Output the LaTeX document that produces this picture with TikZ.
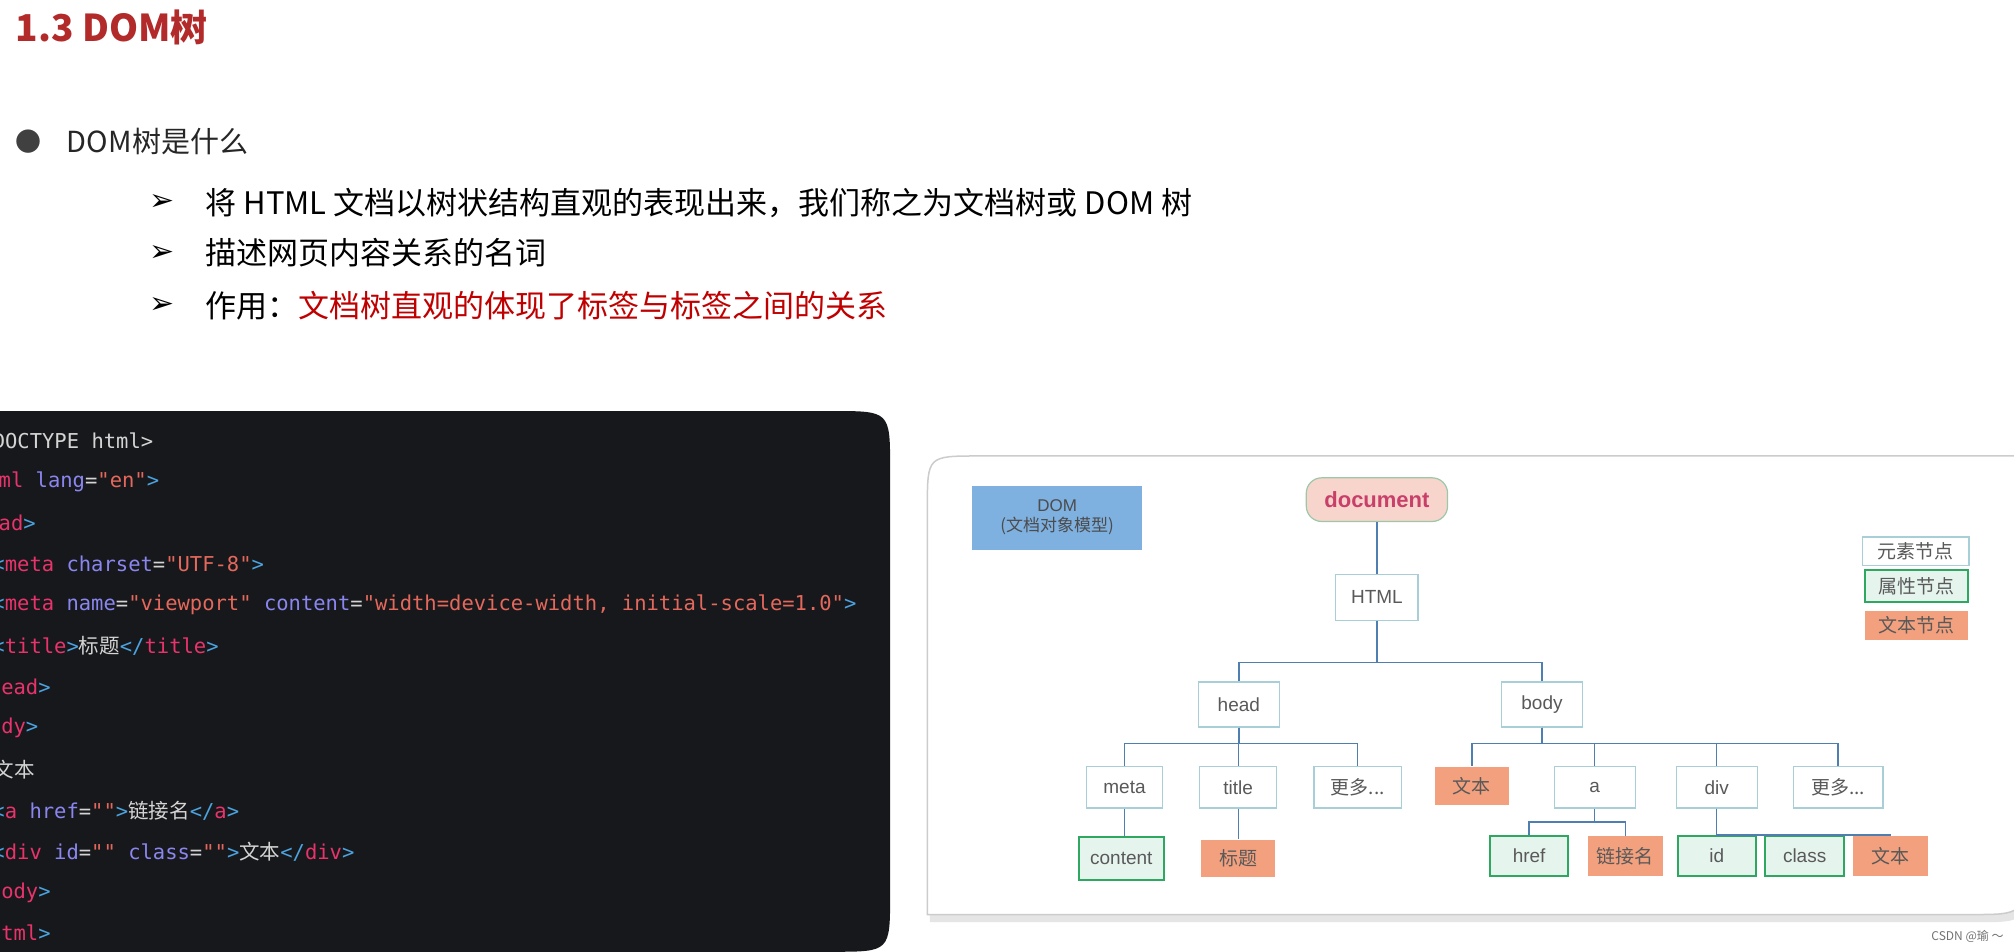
\documentclass[tikz,border=0pt]{standalone}
\usepackage{fontspec}
\setmainfont{Liberation Sans}
\newfontfamily\cjk{Noto Sans CJK SC}
\newfontfamily\codefont{DejaVu Sans Mono}
\def\u{1.2844pt}
\definecolor{titred}{HTML}{B22A2A}
\definecolor{redtxt}{HTML}{C00000}
\definecolor{codebg}{HTML}{17181B}
\definecolor{ctag}{HTML}{E8336B}
\definecolor{cat}{HTML}{8A86F0}
\definecolor{cst}{HTML}{E4685C}
\definecolor{cbr}{HTML}{4BA3E0}
\definecolor{ctx}{HTML}{D4D4D4}
\definecolor{ebord}{HTML}{A8CFD8}
\definecolor{lnc}{HTML}{4F7FB0}
\definecolor{orng}{HTML}{F2A07E}
\definecolor{grnb}{HTML}{2EA860}
\definecolor{grnf}{HTML}{E6F4EE}
\definecolor{domb}{HTML}{7EB0E0}
\definecolor{docf}{HTML}{F8D5CC}
\definecolor{docb}{HTML}{9CC8A8}
\definecolor{doct}{HTML}{C8406A}
\newcommand\tg[1]{\textcolor{ctag}{#1}}
\newcommand\at[1]{\textcolor{cat}{#1}}
\newcommand\st[1]{\textcolor{cst}{#1}}
\newcommand\br[1]{\textcolor{cbr}{#1}}
\newcommand\tx[1]{\textcolor{ctx}{#1}}
\newcommand\bx[7]{\node[#2, minimum width={(#5-#3)*\u}, minimum height={(#6-#4)*\u}] (#1) at ({(#3+#5)/2},{(#4+#6)/2}) {#7};}
\begin{document}
\begin{tikzpicture}[x=1.2844pt,y=-1.2844pt,
  ebox/.style={draw=ebord, line width=1.2pt, fill=white, inner sep=0pt, text=black!65, font=\fontsize{19}{22}\selectfont},
  abox/.style={ebox, draw=grnb, line width=2pt, fill=grnf},
  tbox/.style={ebox, draw=none, fill=orng},
  ln/.style={draw=lnc, line width=1.3pt},
  cl/.style={anchor=west, inner sep=0pt, font=\codefont\fontsize{20.5}{24}\selectfont}]
\useasboundingbox (0,0) rectangle (1568,741);
\clip (0,0) rectangle (1568,741);
\fill[white] (0,0) rectangle (1568,741);
% header text
\node[anchor=west, inner sep=0pt, text=titred, font=\cjk\bfseries\fontsize{37}{40}\selectfont] (title) at (12,21) {1.3 DOM树};
\node[anchor=west, inner sep=0pt, font=\cjk\fontsize{26}{30}\selectfont, text=black!75] (b0) at (12,110) {●};
\node[anchor=west, inner sep=0pt, font=\cjk\fontsize{29}{32}\selectfont, text=black!85] (t0) at (52,110) {DOM树是什么};
\foreach \yy/\nm in {158/a1,197/a2,238/a3}{
  \node[anchor=west, inner sep=0pt, font=\fontspec{DejaVu Sans}\bfseries\fontsize{30}{34}\selectfont] (m\nm) at (116,\yy) {➢};}
\node[anchor=west, inner sep=0pt, font=\cjk\fontsize{31}{34}\selectfont] (a1) at (160,158) {将 HTML 文档以树状结构直观的表现出来，我们称之为文档树或 DOM 树};
\node[anchor=west, inner sep=0pt, font=\cjk\fontsize{31}{34}\selectfont] (a2) at (160,197) {描述网页内容关系的名词};
\node[anchor=west, inner sep=0pt, font=\cjk\fontsize{31}{34}\selectfont] (a3) at (160,238) {作用：\textcolor{redtxt}{文档树直观的体现了标签与标签之间的关系}};
% code panel
\fill[codebg] (-10,320) -- (648,320) .. controls (693,320) .. (693,365) -- (693,696) .. controls (693,741) .. (648,741) -- (-10,741) -- cycle;
\node[cl] (c1) at (-25,343) {\tx{<!DOCTYPE html>}};
\node[cl] (c2) at (-30,375) {\br{<}\tg{html} \at{lang}\tx{=}\st{"en"}\br{>}};
\node[cl] (c3) at (-30,407) {\br{<}\tg{head}\br{>}};
\node[cl] (c4) at (-6,439) {\br{<}\tg{meta} \at{charset}\tx{=}\st{"UTF-8"}\br{>}};
\node[cl] (c5) at (-6,471) {\br{<}\tg{meta} \at{name}\tx{=}\st{"viewport"} \at{content}\tx{=}\st{"width=device-width, initial-scale=1.0"}\br{>}};
\node[cl] (c6) at (-6,503) {\br{<}\tg{title}\br{>}\tx{\cjk 标题}\br{</}\tg{title}\br{>}};
\node[cl] (c7) at (-28,535) {\br{</}\tg{head}\br{>}};
\node[cl] (c8) at (-28,567) {\br{<}\tg{body}\br{>}};
\node[cl] (c9) at (-5,599) {\tx{\cjk 文本}};
\node[cl] (c10) at (-6,631) {\br{<}\tg{a} \at{href}\tx{=}\st{""}\br{>}\tx{\cjk 链接名}\br{</}\tg{a}\br{>}};
\node[cl] (c11) at (-6,663) {\br{<}\tg{div} \at{id}\tx{=}\st{""} \at{class}\tx{=}\st{""}\br{>}\tx{\cjk 文本}\br{</}\tg{div}\br{>}};
\node[cl] (c12) at (-28,695) {\br{</}\tg{body}\br{>}};
\node[cl] (c13) at (-28,727) {\br{</}\tg{html}\br{>}};
% right panel
\fill[black!10] (724,398) .. controls (724,359) .. (766,359) -- (1580,359) -- (1580,676) .. controls (1578,718) .. (1538,718) -- (724,718) -- cycle;
\fill[white] (722,395) .. controls (722,355) .. (762,355) -- (1580,355) -- (1580,672) .. controls (1575,712) .. (1535,712) -- (722,712) -- cycle;
\draw[black!20, line width=1.5pt] (722,395) .. controls (722,355) .. (762,355) -- (1580,355) (1580,672) .. controls (1575,712) .. (1535,712) -- (722,712) -- (722,395);
% tree
\bx{dom}{ebox, draw=none, fill=domb, text=black!70, align=center, font=\fontsize{17}{20}\selectfont}{757}{378}{889}{428}{DOM\\{\cjk (文档对象模型)}}
\node[draw=docb, line width=1.2pt, fill=docf, rounded corners=12*\u, minimum width=110*\u, minimum height=34*\u, inner sep=0pt, text=doct, font=\bfseries\fontsize{22}{24}\selectfont] (doc) at (1072,389) {document};
\bx{html}{ebox}{1040}{447}{1104}{483}{HTML}
\bx{head}{ebox}{933}{531}{996}{566}{head}
\bx{body}{ebox}{1169}{531}{1232}{566}{body}
\bx{meta}{ebox}{846}{597}{905}{629}{meta}
\bx{titl}{ebox}{934}{597}{994}{629}{title}
\bx{more1}{ebox}{1023}{597}{1091}{629}{\cjk 更多...}
\bx{txt1}{tbox}{1117}{597}{1175}{627}{\cjk 文本}
\bx{a}{ebox}{1210}{597}{1273}{629}{a}
\bx{div}{ebox}{1305}{597}{1368}{629}{div}
\bx{more2}{ebox}{1396}{597}{1466}{629}{\cjk 更多...}
\bx{content}{abox}{840}{652}{906}{685}{content}
\bx{biaoti}{tbox}{935}{654}{993}{683}{\cjk 标题}
\bx{href}{abox}{1160}{651}{1221}{682}{href}
\bx{lname}{tbox}{1236}{651}{1295}{682}{\cjk 链接名}
\bx{id}{abox}{1306}{651}{1367}{682}{id}
\bx{class}{abox}{1374}{651}{1436}{682}{class}
\bx{txt2}{tbox}{1443}{651}{1501}{682}{\cjk 文本}
\bx{lg1}{ebox}{1450}{418}{1533}{440}{\cjk 元素节点}
\bx{lg2}{abox}{1452}{444}{1532}{469}{\cjk 属性节点}
\bx{lg3}{tbox}{1452}{476}{1532}{498}{\cjk 文本节点}
\coordinate (r1) at (0,516);
\coordinate (r2) at (0,579);
\coordinate (r3) at (0,640);
\coordinate (r4) at (0,650);
\draw[ln] (doc.south) -- (html.north);
\foreach \c in {head,body} \draw[ln] (html.south) -- (html.south|-r1) -| (\c.north);
\foreach \c in {meta,titl,more1} \draw[ln] (head.south) -- (head.south|-r2) -| (\c.north);
\foreach \c in {txt1,a,div,more2} \draw[ln] (body.south) -- (body.south|-r2) -| (\c.north);
\draw[ln] (meta.south) -- (meta.south|-content.north);
\draw[ln] (titl.south) -- (titl.south|-biaoti.north);
\foreach \c in {href,lname} \draw[ln] (a.south) -- (a.south|-r3) -| (\c.north);
\foreach \c in {id,class,txt2} \draw[ln] (div.south) -- (div.south|-r4) -| (\c.north);
\node[anchor=east, inner sep=0pt, text=black!55, font=\cjk\fontsize{12}{14}\selectfont] (csdn) at (1560,729) {CSDN @瑜 ～};
\end{tikzpicture}
\end{document}
